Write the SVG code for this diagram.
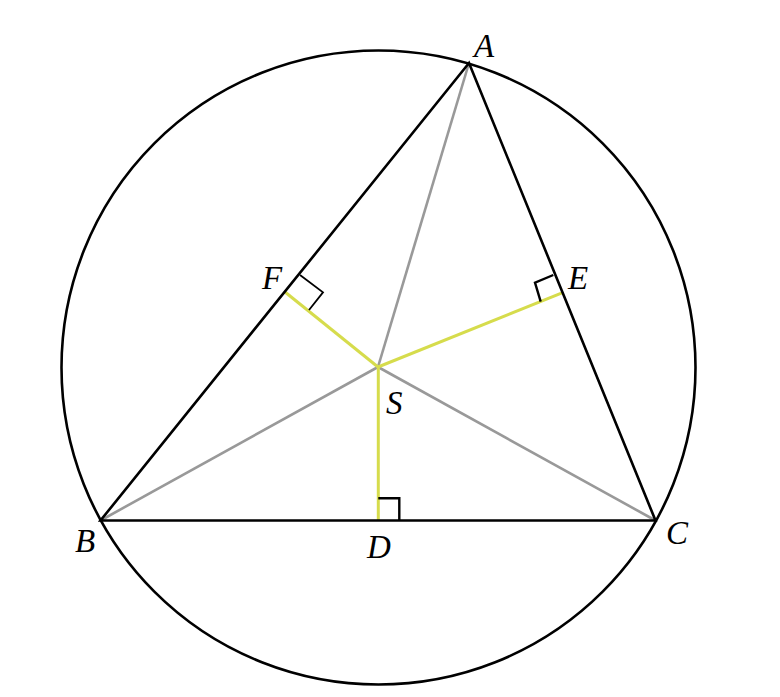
<svg xmlns="http://www.w3.org/2000/svg" width="780" height="697" viewBox="0 0 780 697">
<style>
.blk{fill:none;stroke:#000;stroke-width:2.6;stroke-linejoin:miter}
.gry{fill:none;stroke:#999;stroke-width:2.6}
.yel{fill:none;stroke:#d6dc4c;stroke-width:3}
.mk{fill:none;stroke:#000;stroke-width:1.8}
.lbl{font-family:"Liberation Serif","Times New Roman",serif;font-style:italic;font-size:33px;fill:#000}
</style>
<rect width="780" height="697" fill="#fff"/>
<g id="connectors">
<line class="gry" x1="378" y1="367" x2="469" y2="63"/>
<line class="gry" x1="378" y1="367" x2="100.5" y2="520.5"/>
<line class="gry" x1="378" y1="367" x2="655.5" y2="520.5"/>
<line class="yel" x1="378" y1="367" x2="285" y2="292"/>
<line class="yel" x1="378" y1="367" x2="563.3" y2="292.3"/>
<line class="yel" x1="378.3" y1="367" x2="378.3" y2="520.5"/>
<polyline class="mk" points="300,275 323,292.3 309,310"/>
<polyline class="mk" style="stroke-width:2.4" points="553.3,275 535,282.7 540.7,301.7"/>
<polyline class="mk" style="stroke-width:2.4" points="378.3,498.3 399.3,498.3 399.3,520.5"/>
</g>
<g id="circle"><circle class="blk" cx="378.5" cy="367.5" r="317"/></g>
<g id="triangle"><polygon class="blk" points="469,63 100.5,520.5 655.5,520.5"/></g>
<g id="A"><text class="lbl" x="474" y="57">A</text></g>
<g id="B"><text class="lbl" x="75" y="552">B</text></g>
<g id="C"><text class="lbl" x="666" y="544">C</text></g>
<g id="D"><text class="lbl" x="367" y="558">D</text></g>
<g id="E"><text class="lbl" x="568" y="289">E</text></g>
<g id="F"><text class="lbl" x="262" y="289">F</text></g>
<g id="S"><text class="lbl" x="386" y="414">S</text></g>
</svg>
